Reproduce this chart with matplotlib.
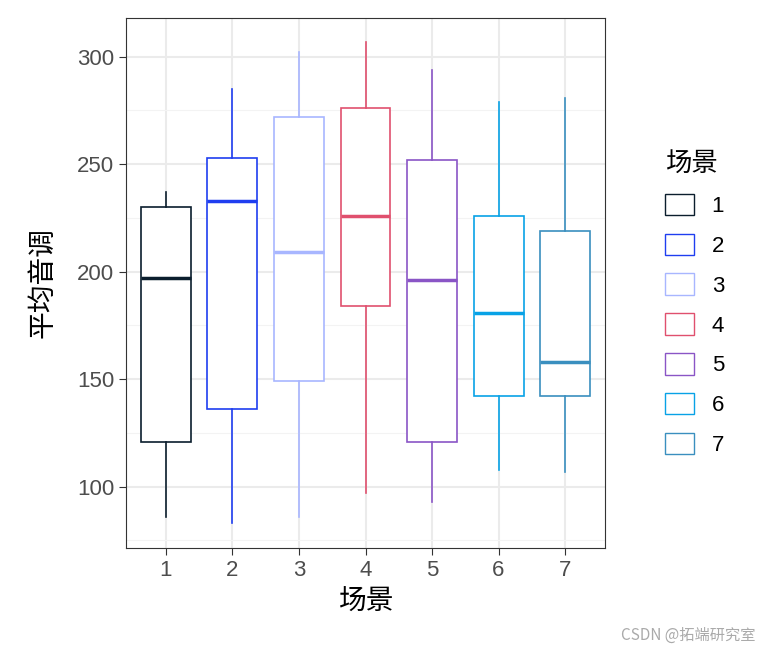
import matplotlib.pyplot as plt
from matplotlib.patches import Patch
from matplotlib.ticker import MultipleLocator

plt.rcParams['font.family'] = ['Liberation Sans', 'Noto Sans CJK SC', 'DejaVu Sans']

scenes = ['1', '2', '3', '4', '5', '6', '7']
whislo = [86, 83, 86, 97, 93, 108, 107]
q1 = [121, 136, 149, 184, 121, 142, 142]
med = [197, 233, 209, 226, 196, 181, 158]
q3 = [230, 253, 272, 276, 252, 226, 219]
whishi = [237, 285, 302, 307, 294, 279, 281]
colors = ['#0b1e2d', '#1f3ef0', '#a8b6ff', '#e0506e', '#8a55c6', '#08a2e6', '#3a8fbf']

fig = plt.figure(figsize=(7.67, 6.54), dpi=100)
ax = fig.add_axes([126 / 767, 1 - 548 / 654, 479 / 767, 530 / 654])

stats = [dict(whislo=a, q1=b, med=c, q3=d, whishi=e, fliers=[])
         for a, b, c, d, e in zip(whislo, q1, med, q3, whishi)]
for i, (s, c) in enumerate(zip(stats, colors)):
    ax.bxp([s], positions=[i + 1], widths=0.75, showcaps=False, patch_artist=True,
           boxprops=dict(facecolor='white', edgecolor=c, linewidth=1.2),
           medianprops=dict(color=c, linewidth=2.5),
           whiskerprops=dict(color=c, linewidth=1.2), zorder=3)

ax.set_xlim(0.4, 7.6)
ax.set_ylim(71.5, 318)
ax.set_xticks(range(1, 8))
ax.set_xticklabels(scenes)
ax.yaxis.set_major_locator(MultipleLocator(50))
ax.yaxis.set_minor_locator(MultipleLocator(25))
ax.grid(True, which='major', color='#ebebeb', linewidth=1.5, zorder=0)
ax.grid(True, which='minor', axis='y', color='#f3f3f3', linewidth=0.8, zorder=0)
ax.set_axisbelow(True)
for sp in ax.spines.values():
    sp.set_color('#333333')
ax.tick_params(labelsize=16, colors='#333333', labelcolor='#4d4d4d', length=5, which='major')
ax.tick_params(which='minor', length=0)
ax.set_xlabel('场景', fontsize=20, family=['Noto Sans CJK SC'])
ax.set_ylabel('平均音调', fontsize=20, family=['Noto Sans CJK SC'], labelpad=14)

handles = [Patch(facecolor='white', edgecolor=c, label=s) for s, c in zip(scenes, colors)]
leg = fig.legend(handles=handles, loc='upper left', bbox_to_anchor=(645 / 767, 1 - 130 / 654),
                 frameon=False, fontsize=16, title='场景', handlelength=1.3, handleheight=1.1,
                 labelspacing=0.75, alignment='left')
leg.get_title().set_fontsize(19)
leg.get_title().set_family(['Noto Sans CJK SC'])

fig.text(0.985, 0.015, 'CSDN @拓端研究室', ha='right', va='bottom', fontsize=11,
         color='#aaaaaa', family=['Noto Sans CJK SC', 'DejaVu Sans'])

fig.savefig('out.png', dpi=100)
